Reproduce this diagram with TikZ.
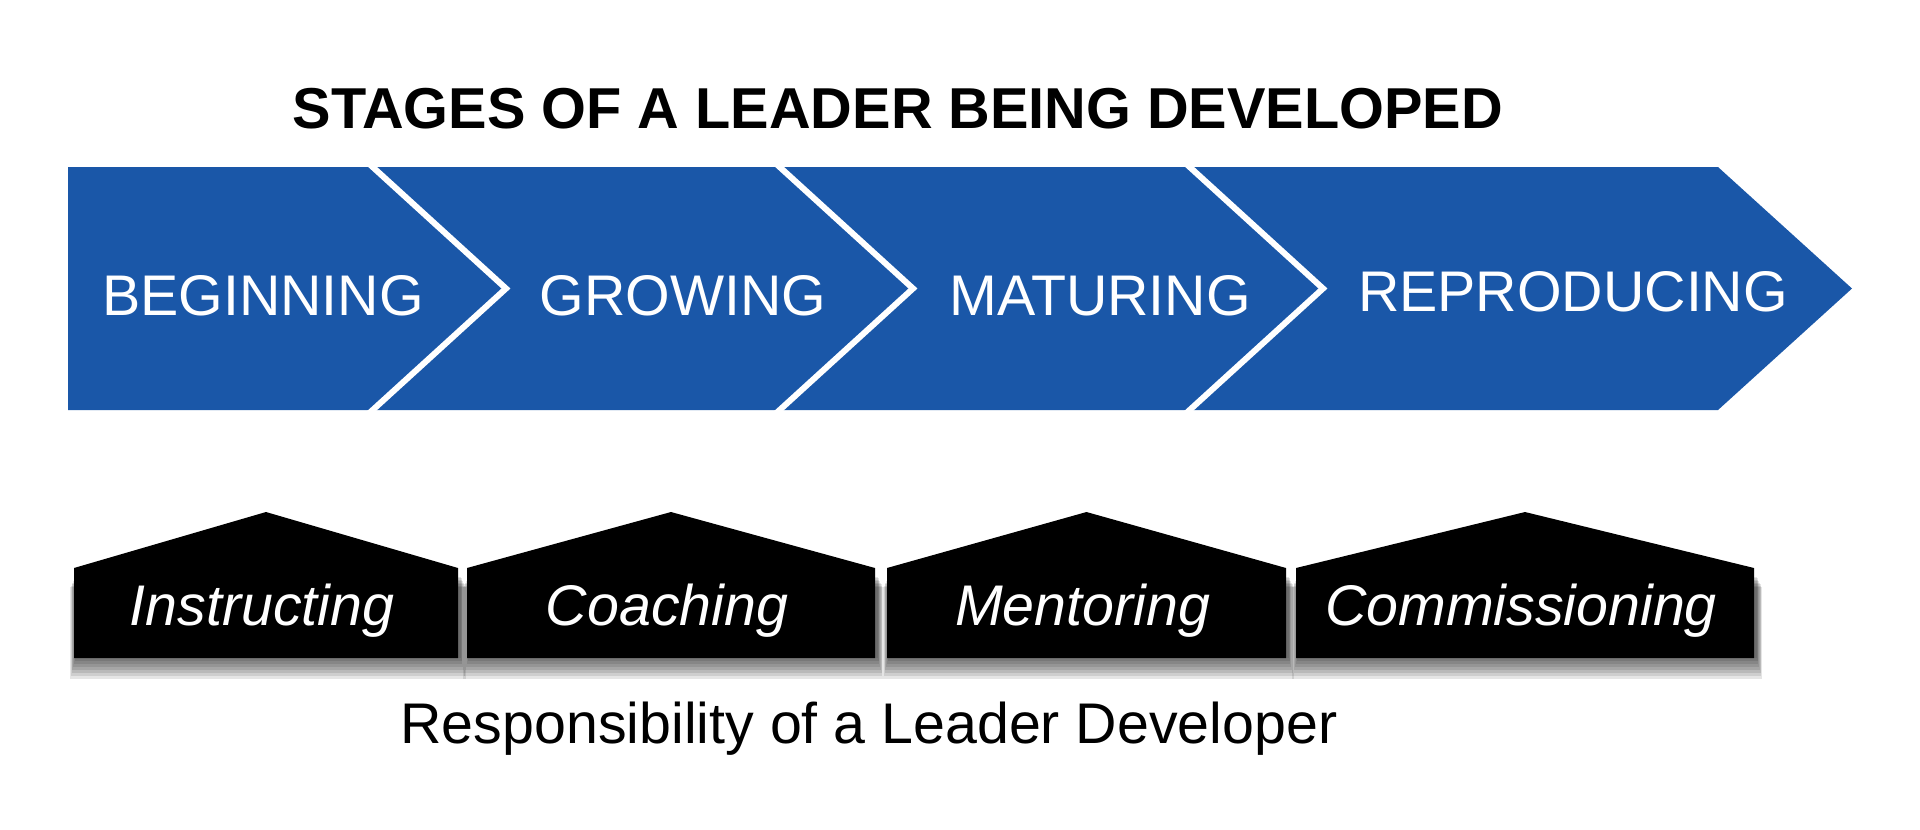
\documentclass[tikz,border=0pt]{standalone}
\usepackage{fontspec}
\setmainfont{Liberation Sans}
\definecolor{stageblue}{RGB}{26,87,168}

\begin{document}
\begin{tikzpicture}[x=0.01cm,y=-0.01cm,
  every node/.style={inner sep=0pt,anchor=base,font=\fontsize{16.3}{20}\selectfont},
  heading/.style={font=\fontsize{16.4}{20}\selectfont\bfseries},
  stage/.style={text=white},
  duty/.style={text=white,font=\fontsize{16.3}{20}\selectfont\itshape},
  sepline/.style={draw=white,line width=0.06cm},
  roof/.style={fill=black},
  roofshade/.style={fill=black,opacity=0.1}]
\useasboundingbox (0,0) rectangle (1920,829);
\node[heading] (title) at (898,128) {STAGES OF A LEADER BEING DEVELOPED};
\fill[stageblue] (68,167) -- (1718,167) -- (1852,288.5) -- (1718,410) -- (68,410) -- cycle;
\foreach \x in {373,780,1190}
  \draw[sepline] (\x-8,160) -- (\x+133,288.5) -- (\x-8,417);
\node[stage] (begin) at (263,315) {BEGINNING};
\node[stage] (grow) at (683,315) {GROWING};
\node[stage] (mature) at (1100,315) {MATURING};
\node[stage] (reproduce) at (1573,311) {REPRODUCING};
\foreach \l/\r/\nm/\txt in {74/458/instruct/Instructing,467/875/coach/Coaching,
    887/1286/mentor/Mentoring,1296/1754/commission/Commissioning} {
  \foreach \d in {3,6,...,24}
    \fill[roofshade] (\l-\d/4+2,575+\d/2) rectangle (\r+\d/4+2,655+\d);
  \fill[roof] (\l,568) -- ({(\l+\r)/2},512) -- (\r,568) -- (\r,658) -- (\l,658) -- cycle;
  \node[duty] (\nm) at ({(\l+\r)/2-4},625) {\txt};
}
\node (resp) at (869,743) {Responsibility of a Leader Developer};
\end{tikzpicture}
\end{document}
